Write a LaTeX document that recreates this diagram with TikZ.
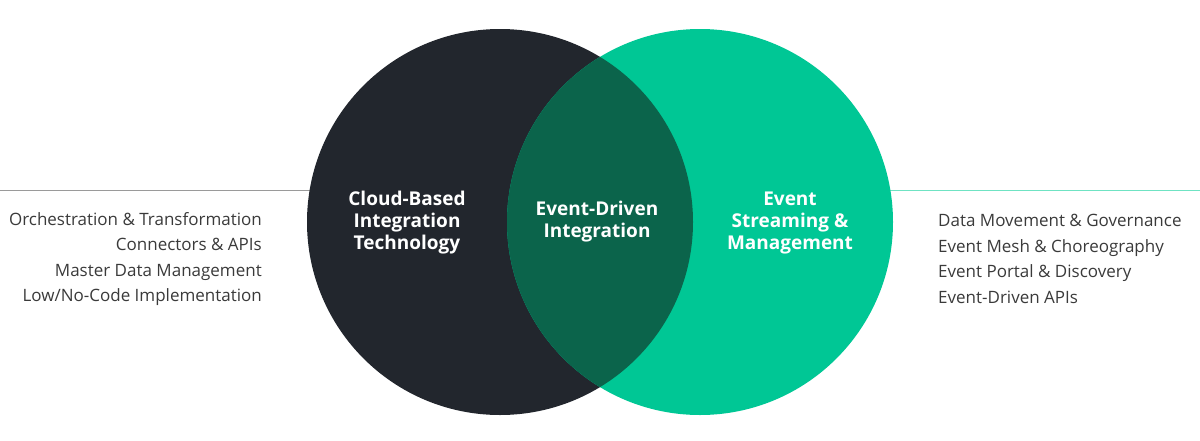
\documentclass[tikz,border=0pt]{standalone}
\usepackage{fontspec}
\setmainfont{Open Sans}
\definecolor{darkc}{HTML}{22262D}
\definecolor{greenc}{HTML}{00C795}
\definecolor{midc}{HTML}{0B644B}
\definecolor{grayline}{HTML}{9A9A9A}
\definecolor{greenline}{HTML}{6FE3C3}
\definecolor{listc}{HTML}{3A3A3A}
\tikzset{
  venn/.style={circle, minimum size=386pt, inner sep=0pt, draw=none},
  biglabel/.style={text=white, align=center, font=\bfseries\fontsize{19}{22}\selectfont},
  listlabel/.style={text=listc, font=\fontsize{17}{25.5}\selectfont, inner sep=0pt},
}
\begin{document}
\begin{tikzpicture}[x=1pt,y=-1pt]
\useasboundingbox (0,0) rectangle (1200,440);
\coordinate (la) at (0,190);
\coordinate (lb) at (400,190);
\coordinate (ra) at (800,190);
\coordinate (rb) at (1200,190);
\draw[grayline, line width=1pt] (la) -- (lb);
\draw[greenline, line width=1pt] (ra) -- (rb);
\node[venn, fill=darkc] (L) at (500,222) {};
\node[venn, fill=greenc] (R) at (700,222) {};
\begin{scope}
  \clip (500,222) circle[radius=193pt];
  \fill[midc] (700,222) circle[radius=193pt];
\end{scope}
\node[biglabel] (tl) at (407,223) {Cloud-Based\\Integration\\Technology};
\node[biglabel] (tm) at (597,222) {Event-Driven\\Integration};
\node[biglabel] (tr) at (790,223) {Event\\Streaming \&\\Management};
\node[listlabel, anchor=east, align=right] (ll) at (262,259) {Orchestration \& Transformation\\Connectors \& APIs\\Master Data Management\\Low/No-Code Implementation};
\node[listlabel, anchor=west, align=left] (rl) at (938,259) {Data Movement \& Governance\\Event Mesh \& Choreography\\Event Portal \& Discovery\\Event-Driven APIs};
\end{tikzpicture}
\end{document}
